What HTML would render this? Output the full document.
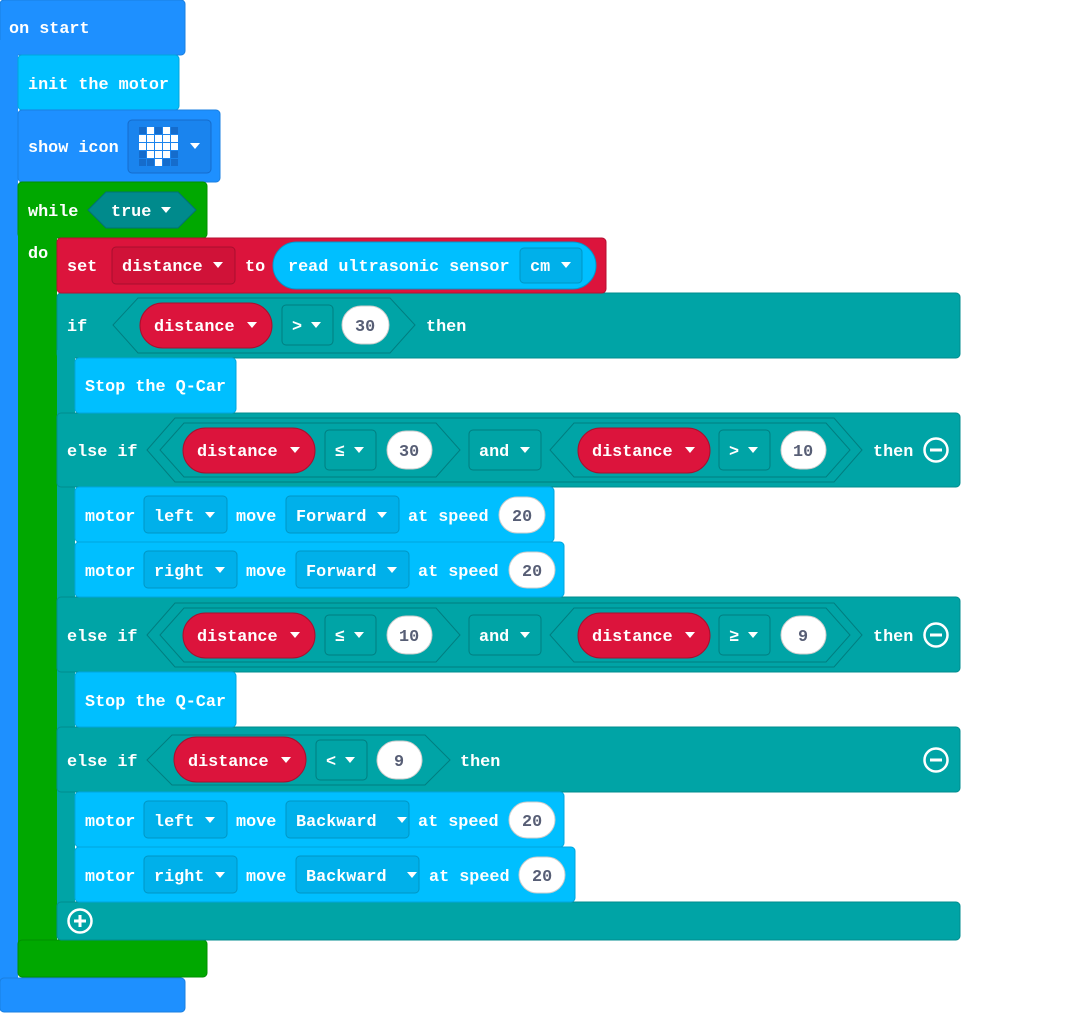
<!DOCTYPE html>
<html><head><meta charset="utf-8"><style>
html,body{margin:0;padding:0;background:#fff;}
svg text{font-family:"Liberation Mono",monospace;font-weight:bold;font-size:16.8px;fill:#fff;}
svg text.n{fill:#575e75;}
</style></head><body>
<svg width="1080" height="1014" viewBox="0 0 1080 1014" xmlns="http://www.w3.org/2000/svg">
<defs>
<g id="tri"><polygon points="0,-3 10,-3 5,3" fill="#fff"/></g>
</defs>
<!-- on start -->
<rect x="0" y="0" width="185" height="55" rx="4" fill="#1e90ff" stroke="#1a7fe0"/>
<rect x="0" y="40" width="18" height="950" fill="#1e90ff"/>
<rect x="0" y="978" width="185" height="34" rx="4" fill="#1e90ff" stroke="#1a7fe0"/>
<text x="9" y="33">on start</text>
<!-- init -->
<rect x="18" y="55" width="161" height="55" rx="4" fill="#00bfff" stroke="#00a6dd"/>
<text x="28" y="89">init the motor</text>
<!-- show icon -->
<rect x="18" y="110" width="202" height="72" rx="4" fill="#1e90ff" stroke="#1a7fe0"/>
<text x="28" y="152">show icon</text>
<rect x="128" y="120" width="83" height="53" rx="4" fill="#1a84ee" stroke="#156ccc"/>
<g>
<rect x="139" y="127" width="7" height="7" fill="#156ccc"/><rect x="147" y="127" width="7" height="7" fill="#fff"/><rect x="155" y="127" width="7" height="7" fill="#156ccc"/><rect x="163" y="127" width="7" height="7" fill="#fff"/><rect x="171" y="127" width="7" height="7" fill="#156ccc"/>
<rect x="139" y="135" width="7" height="7" fill="#fff"/><rect x="147" y="135" width="7" height="7" fill="#fff"/><rect x="155" y="135" width="7" height="7" fill="#fff"/><rect x="163" y="135" width="7" height="7" fill="#fff"/><rect x="171" y="135" width="7" height="7" fill="#fff"/>
<rect x="139" y="143" width="7" height="7" fill="#fff"/><rect x="147" y="143" width="7" height="7" fill="#fff"/><rect x="155" y="143" width="7" height="7" fill="#fff"/><rect x="163" y="143" width="7" height="7" fill="#fff"/><rect x="171" y="143" width="7" height="7" fill="#fff"/>
<rect x="139" y="151" width="7" height="7" fill="#156ccc"/><rect x="147" y="151" width="7" height="7" fill="#fff"/><rect x="155" y="151" width="7" height="7" fill="#fff"/><rect x="163" y="151" width="7" height="7" fill="#fff"/><rect x="171" y="151" width="7" height="7" fill="#156ccc"/>
<rect x="139" y="159" width="7" height="7" fill="#156ccc"/><rect x="147" y="159" width="7" height="7" fill="#156ccc"/><rect x="155" y="159" width="7" height="7" fill="#fff"/><rect x="163" y="159" width="7" height="7" fill="#156ccc"/><rect x="171" y="159" width="7" height="7" fill="#156ccc"/>
</g>
<use href="#tri" x="190" y="146"/>
<!-- while -->
<rect x="18" y="182" width="189" height="56" rx="4" fill="#00a800" stroke="#008f00"/>
<rect x="18" y="230" width="39" height="720" fill="#00a800"/>
<rect x="18" y="940" width="189" height="37" rx="4" fill="#00a800" stroke="#008f00"/>
<text x="28" y="216">while</text>
<polygon points="88,210 106,192 178,192 196,210 178,228 106,228" fill="#008a8c" stroke="#007274"/>
<text x="111" y="216">true</text><use href="#tri" x="161" y="210"/>
<text x="28" y="258">do</text>
<!-- if block teal -->
<rect x="57" y="293" width="903" height="65" rx="4" fill="#00a4a6" stroke="#008d8f"/>
<rect x="57" y="350" width="18" height="560" fill="#00a4a6"/>
<rect x="57" y="413" width="903" height="74" rx="4" fill="#00a4a6" stroke="#008d8f"/>
<rect x="57" y="597" width="903" height="75" rx="4" fill="#00a4a6" stroke="#008d8f"/>
<rect x="57" y="727" width="903" height="65" rx="4" fill="#00a4a6" stroke="#008d8f"/>
<rect x="57" y="902" width="903" height="38" rx="4" fill="#00a4a6" stroke="#008d8f"/>
<!-- set -->
<rect x="57" y="238" width="549" height="55" rx="4" fill="#dc143c" stroke="#b51032"/>
<text x="67" y="271">set</text>
<rect x="112" y="247" width="123" height="37" rx="4" fill="#d01238" stroke="#a80f2e"/>
<text x="122" y="271">distance</text><use href="#tri" x="213" y="265"/>
<text x="245" y="271">to</text>
<rect x="273" y="242" width="323" height="47" rx="23.5" fill="#00bfff" stroke="#0099cc"/>
<text x="288" y="271">read ultrasonic sensor</text>
<rect x="520" y="248" width="62" height="35" rx="4" fill="#00b0ea" stroke="#0096c4"/>
<text x="530" y="271">cm</text><use href="#tri" x="561" y="265"/>
<!-- if -->
<text x="67" y="331">if</text>
<polygon points="113,325 138,298 390,298 415,325 390,353 138,353" fill="#00a4a6" stroke="#007e80"/>
<rect x="140" y="303" width="132" height="45" rx="22.5" fill="#dc143c" stroke="#a80f2e"/>
<text x="154" y="331">distance</text><use href="#tri" x="247" y="325"/>
<rect x="282" y="305" width="51" height="40" rx="4" fill="#00a4a6" stroke="#007e80"/>
<text x="292" y="331">&gt;</text><use href="#tri" x="311" y="325"/>
<rect x="342" y="306" width="47" height="38" rx="19" fill="#fff" stroke="#ccc"/>
<text class="n" x="355" y="331">30</text>
<text x="426" y="331">then</text>
<!-- Stop 1 -->
<rect x="75" y="358" width="161" height="55" rx="4" fill="#00bfff" stroke="#00a6dd"/>
<text x="85" y="391">Stop the Q-Car</text>
<!-- else if 1 -->
<text x="67" y="456">else if</text>
<polygon points="147,450 175,418 834,418 862,450 834,482 175,482" fill="#00a4a6" stroke="#007e80"/>
<polygon points="160,450 184,423 436,423 460,450 436,477 184,477" fill="#00a4a6" stroke="#007e80"/>
<polygon points="550,450 574,423 826,423 850,450 826,477 574,477" fill="#00a4a6" stroke="#007e80"/>
<rect x="183" y="428" width="132" height="45" rx="22.5" fill="#dc143c" stroke="#a80f2e"/>
<text x="197" y="456">distance</text><use href="#tri" x="290" y="450"/>
<rect x="325" y="430" width="51" height="40" rx="4" fill="#00a4a6" stroke="#007e80"/>
<text x="335" y="456">≤</text><use href="#tri" x="354" y="450"/>
<rect x="387" y="431" width="45" height="38" rx="19" fill="#fff" stroke="#ccc"/>
<text class="n" x="399" y="456">30</text>
<rect x="469" y="430" width="72" height="40" rx="4" fill="#00a4a6" stroke="#007e80"/>
<text x="479" y="456">and</text><use href="#tri" x="520" y="450"/>
<rect x="578" y="428" width="132" height="45" rx="22.5" fill="#dc143c" stroke="#a80f2e"/>
<text x="592" y="456">distance</text><use href="#tri" x="685" y="450"/>
<rect x="719" y="430" width="51" height="40" rx="4" fill="#00a4a6" stroke="#007e80"/>
<text x="729" y="456">&gt;</text><use href="#tri" x="748" y="450"/>
<rect x="781" y="431" width="45" height="38" rx="19" fill="#fff" stroke="#ccc"/>
<text class="n" x="793" y="456">10</text>
<text x="873" y="456">then</text>
<circle cx="936" cy="450" r="11.5" fill="none" stroke="#fff" stroke-width="2.5"/><rect x="930" y="448.5" width="12" height="3" fill="#fff"/>
<!-- motor forward -->
<rect x="75" y="487" width="479" height="55" rx="4" fill="#00bfff" stroke="#00a6dd"/>
<text x="85" y="521">motor</text>
<rect x="144" y="496" width="83" height="37" rx="4" fill="#00b0ea" stroke="#0096c4"/>
<text x="154" y="521">left</text><use href="#tri" x="205" y="515"/>
<text x="236" y="521">move</text>
<rect x="286" y="496" width="113" height="37" rx="4" fill="#00b0ea" stroke="#0096c4"/>
<text x="296" y="521">Forward</text><use href="#tri" x="377" y="515"/>
<text x="408" y="521">at speed</text>
<rect x="499" y="497" width="46" height="36" rx="18" fill="#fff" stroke="#ccc"/>
<text class="n" x="512" y="521">20</text>
<rect x="75" y="542" width="489" height="55" rx="4" fill="#00bfff" stroke="#00a6dd"/>
<text x="85" y="576">motor</text>
<rect x="144" y="551" width="93" height="37" rx="4" fill="#00b0ea" stroke="#0096c4"/>
<text x="154" y="576">right</text><use href="#tri" x="215" y="570"/>
<text x="246" y="576">move</text>
<rect x="296" y="551" width="113" height="37" rx="4" fill="#00b0ea" stroke="#0096c4"/>
<text x="306" y="576">Forward</text><use href="#tri" x="387" y="570"/>
<text x="418" y="576">at speed</text>
<rect x="509" y="552" width="46" height="36" rx="18" fill="#fff" stroke="#ccc"/>
<text class="n" x="522" y="576">20</text>
<!-- else if 2 -->
<text x="67" y="641">else if</text>
<polygon points="147,635 175,603 834,603 862,635 834,667 175,667" fill="#00a4a6" stroke="#007e80"/>
<polygon points="160,635 184,608 436,608 460,635 436,662 184,662" fill="#00a4a6" stroke="#007e80"/>
<polygon points="550,635 574,608 826,608 850,635 826,662 574,662" fill="#00a4a6" stroke="#007e80"/>
<rect x="183" y="613" width="132" height="45" rx="22.5" fill="#dc143c" stroke="#a80f2e"/>
<text x="197" y="641">distance</text><use href="#tri" x="290" y="635"/>
<rect x="325" y="615" width="51" height="40" rx="4" fill="#00a4a6" stroke="#007e80"/>
<text x="335" y="641">≤</text><use href="#tri" x="354" y="635"/>
<rect x="387" y="616" width="45" height="38" rx="19" fill="#fff" stroke="#ccc"/>
<text class="n" x="399" y="641">10</text>
<rect x="469" y="615" width="72" height="40" rx="4" fill="#00a4a6" stroke="#007e80"/>
<text x="479" y="641">and</text><use href="#tri" x="520" y="635"/>
<rect x="578" y="613" width="132" height="45" rx="22.5" fill="#dc143c" stroke="#a80f2e"/>
<text x="592" y="641">distance</text><use href="#tri" x="685" y="635"/>
<rect x="719" y="615" width="51" height="40" rx="4" fill="#00a4a6" stroke="#007e80"/>
<text x="729" y="641">≥</text><use href="#tri" x="748" y="635"/>
<rect x="781" y="616" width="45" height="38" rx="19" fill="#fff" stroke="#ccc"/>
<text class="n" x="798" y="641">9</text>
<text x="873" y="641">then</text>
<circle cx="936" cy="635" r="11.5" fill="none" stroke="#fff" stroke-width="2.5"/><rect x="930" y="633.5" width="12" height="3" fill="#fff"/>
<!-- Stop 2 -->
<rect x="75" y="672" width="161" height="55" rx="4" fill="#00bfff" stroke="#00a6dd"/>
<text x="85" y="706">Stop the Q-Car</text>
<!-- else if 3 -->
<text x="67" y="766">else if</text>
<polygon points="147,760 172,735 425,735 450,760 425,785 172,785" fill="#00a4a6" stroke="#007e80"/>
<rect x="174" y="737" width="132" height="45" rx="22.5" fill="#dc143c" stroke="#a80f2e"/>
<text x="188" y="766">distance</text><use href="#tri" x="281" y="760"/>
<rect x="316" y="740" width="51" height="40" rx="4" fill="#00a4a6" stroke="#007e80"/>
<text x="326" y="766">&lt;</text><use href="#tri" x="345" y="760"/>
<rect x="377" y="741" width="45" height="38" rx="19" fill="#fff" stroke="#ccc"/>
<text class="n" x="394" y="766">9</text>
<text x="460" y="766">then</text>
<circle cx="936" cy="760" r="11.5" fill="none" stroke="#fff" stroke-width="2.5"/><rect x="930" y="758.5" width="12" height="3" fill="#fff"/>
<!-- motor backward -->
<rect x="75" y="792" width="489" height="55" rx="4" fill="#00bfff" stroke="#00a6dd"/>
<text x="85" y="826">motor</text>
<rect x="144" y="801" width="83" height="37" rx="4" fill="#00b0ea" stroke="#0096c4"/>
<text x="154" y="826">left</text><use href="#tri" x="205" y="820"/>
<text x="236" y="826">move</text>
<rect x="286" y="801" width="123" height="37" rx="4" fill="#00b0ea" stroke="#0096c4"/>
<text x="296" y="826">Backward</text><use href="#tri" x="397" y="820"/>
<text x="418" y="826">at speed</text>
<rect x="509" y="802" width="46" height="36" rx="18" fill="#fff" stroke="#ccc"/>
<text class="n" x="522" y="826">20</text>
<rect x="75" y="847" width="500" height="55" rx="4" fill="#00bfff" stroke="#00a6dd"/>
<text x="85" y="881">motor</text>
<rect x="144" y="856" width="93" height="37" rx="4" fill="#00b0ea" stroke="#0096c4"/>
<text x="154" y="881">right</text><use href="#tri" x="215" y="875"/>
<text x="246" y="881">move</text>
<rect x="296" y="856" width="123" height="37" rx="4" fill="#00b0ea" stroke="#0096c4"/>
<text x="306" y="881">Backward</text><use href="#tri" x="407" y="875"/>
<text x="429" y="881">at speed</text>
<rect x="519" y="857" width="46" height="36" rx="18" fill="#fff" stroke="#ccc"/>
<text class="n" x="532" y="881">20</text>
<!-- plus -->
<circle cx="80" cy="921" r="11.5" fill="none" stroke="#fff" stroke-width="2.5"/>
<rect x="74" y="919.5" width="12" height="3" fill="#fff"/><rect x="78.5" y="915" width="3" height="12" fill="#fff"/>
</svg>
</body></html>
